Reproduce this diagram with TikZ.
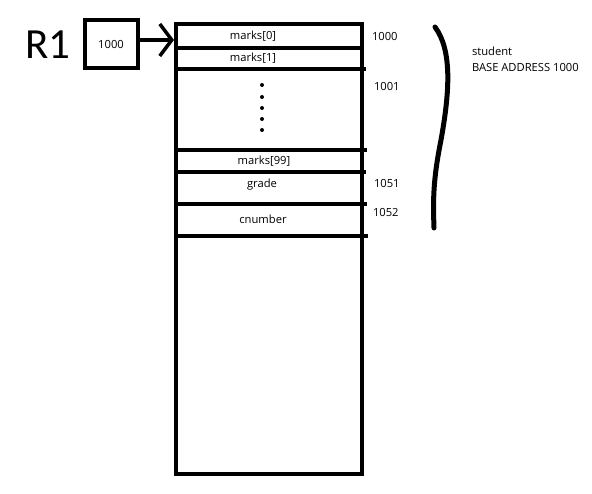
\documentclass[tikz,border=0pt]{standalone}
\usepackage{fontspec}
\setmainfont{Open Sans}
\newfontfamily\calibrifont{Carlito}
\usetikzlibrary{arrows.meta, positioning}

\begin{document}
\begin{tikzpicture}[x=1pt, y=-1pt, line width=4pt,
    txt/.style={font=\fontsize{11.2}{16}\selectfont, inner sep=1pt},
    addr/.style={txt, anchor=west}]
    \useasboundingbox (0,0) rectangle (592,494);

    % register R1
    \node[font=\calibrifont\fontsize{43}{46}\selectfont] (rlabel) at (48,45) {R1};
    \node[draw, txt, minimum width=53pt, minimum height=48pt, inner sep=0pt] (rbox) at (111,44.5) {1000};

    % memory block of student
    \node[draw, minimum width=186pt, minimum height=450pt] (mem) at (269,249) {};
    \draw (176,48) -- (362,48);
    \draw (176,69.5) -- (366,69.5);
    \draw (176,150) -- (367,150);
    \draw (176,172) -- (366,172);
    \draw (176,204) -- (367,204);
    \draw (176,236) -- (368,236);

    \node[txt] (m0) at (253,36) {marks[0]};
    \node[txt] (m1) at (253,58) {marks[1]};
    \foreach \y in {85,97,108,119,130}
        \fill (262,\y) circle (2pt);
    \node[txt] (m99) at (264,161) {marks[99]};
    \node[txt] (grade) at (262,185) {grade};
    \node[txt] (cnum) at (263,219) {cnumber};

    % addresses
    \node[addr] (a1000) at (369,36) {1000};
    \node[addr] (a1001) at (371,86) {1001};
    \node[addr] (a1051) at (371,183) {1051};
    \node[addr] (a1052) at (370,212) {1052};

    % pointer
    \draw[-{Straight Barb[length=12pt, width=32pt]}, line width=3.5pt]
        ([yshift=4.5pt]rbox.east) -- ([yshift=4.5pt]rbox.east -| mem.west);

    % brace
    \draw[line width=5pt, line cap=round]
        (435,27) .. controls (452,50) and (450,90) .. (441,140)
        .. controls (433,180) and (433,200) .. (434,228);
    \node[txt, anchor=north west, align=left] (base) at (469,44) {student\\BASE ADDRESS 1000};
\end{tikzpicture}
\end{document}
